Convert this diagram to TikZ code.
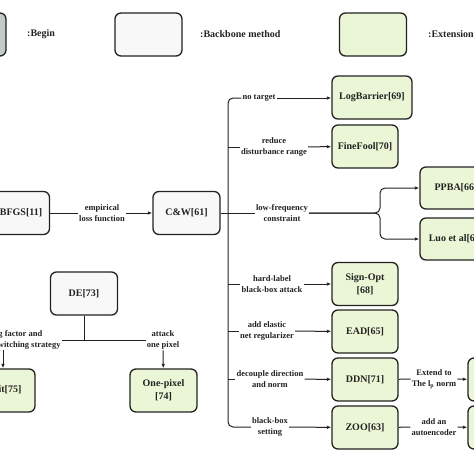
\documentclass[tikz,border=0pt]{standalone}
\usepackage{fontspec}
\setmainfont{Liberation Serif}
\usepackage{xcolor}
\usepackage{tikz}
\usetikzlibrary{positioning, arrows.meta}
\definecolor{begingray}{HTML}{C3CACA}
\definecolor{backfill}{HTML}{F8F8F8}
\definecolor{extgreen}{HTML}{EAF6D6}
\definecolor{inkblack}{HTML}{222222}

\begin{document}
\begin{tikzpicture}[x=1pt, y=-1pt,
    box/.style={draw=inkblack, line width=1.3pt, rounded corners=6pt, minimum width=67pt,
                minimum height=43pt, align=center, inner sep=2pt, text=inkblack,
                font=\bfseries\fontsize{10}{13}\selectfont},
    beginbox/.style={box, fill=begingray},
    backbox/.style={box, fill=backfill},
    extbox/.style={box, fill=extgreen},
    legendtxt/.style={anchor=west, inner sep=0pt, text=inkblack, font=\bfseries\fontsize{10}{12}\selectfont},
    lbl/.style={align=center, inner sep=1pt, text=inkblack, font=\bfseries\fontsize{8.5}{10.5}\selectfont},
    conn/.style={draw=inkblack, line width=1pt},
    arr/.style={conn, -{Latex[length=4.5pt, width=3.5pt]}}]
    \useasboundingbox (0,0) rectangle (474,474);
    \clip (0,0) rectangle (474,474);

    % legend
    \node[beginbox] (lgbegin) at (-27.5,34.5) {};
    \node[legendtxt] (lgbegintxt) at (27,34) {:Begin};
    \node[backbox] (lgback) at (148.5,34.5) {};
    \node[legendtxt] (lgbacktxt) at (200,34) {:Backbone method};
    \node[extbox] (lgext) at (373,34.5) {};
    \node[legendtxt] (lgexttxt) at (428,34) {:Extension method};

    % backbone chain
    \node[backbox] (lbfgs) at (16,213) {L-BFGS[11]};
    \node[backbox] (cw) at (186.5,213) {C\&W[61]};
    \node[lbl] (lblemp) at (102,213) {empirical\\loss function};
    \draw[conn] (lbfgs) -- (lblemp);
    \draw[arr] (lblemp) -- (cw);

    % branches of C&W
    \coordinate (trunk) at (228,213);
    \node[lbl] (lblnotarget) at (259,98) {no target};
    \node[lbl] (lbldist) at (274,147) {reduce\\disturbance range};
    \node[lbl] (lbllow) at (282,213) {low-frequency\\constraint};
    \node[lbl] (lblhard) at (272,284) {hard-label\\black-box attack};
    \node[lbl] (lblelastic) at (267,331) {add elastic\\net regularizer};
    \node[lbl] (lbldecouple) at (270,379) {decouple direction\\and norm};
    \node[lbl] (lblblackbox) at (270,427) {black-box\\setting};

    \node[extbox, minimum width=80pt] (logbarrier) at (372,97.5) {LogBarrier[69]};
    \node[extbox, minimum width=66pt] (finefool) at (365,146.5) {FineFool[70]};
    \node[extbox, minimum width=72pt, minimum height=42pt] (ppba) at (456,188) {PPBA[66]};
    \node[extbox, minimum width=72pt, minimum height=42pt] (luo) at (456,239) {Luo et al[64]};
    \node[extbox, minimum width=66pt] (signopt) at (365,284) {Sign-Opt\\{[68]}};
    \node[extbox, minimum width=66pt] (ead) at (365,331.5) {EAD[65]};
    \node[extbox, minimum width=66pt] (ddn) at (365,379.5) {DDN[71]};
    \node[extbox, minimum width=66pt] (zoo) at (365,427.5) {ZOO[63]};
    \node[extbox] (ddnnext) at (501.5,379.5) {};
    \node[extbox] (zoonext) at (501.5,427.5) {};

    \draw[conn] (cw) -- (trunk);
    \draw[conn, rounded corners=5pt] (lblnotarget.west) -| (trunk) |- (lblblackbox.west);
    \draw[arr] (lblnotarget) -- (lblnotarget -| logbarrier.west);
    \draw[conn] (lbldist.west -| trunk) -- (lbldist.west);
    \draw[arr] (lbldist) -- (finefool);
    \draw[conn] (trunk) -- (lbllow);
    \coordinate (lowsplit) at (380,213);
    \draw[arr, rounded corners=5pt] (lbllow.east) -- (lowsplit) |- (ppba.west);
    \draw[arr, rounded corners=5pt] (lbllow.east) -- (lowsplit) |- (luo.west);
    \draw[conn] (lblhard.west -| trunk) -- (lblhard.west);
    \draw[arr] (lblhard) -- (signopt);
    \draw[conn] (lblelastic.west -| trunk) -- (lblelastic.west);
    \draw[arr] (lblelastic) -- (ead);
    \draw[conn] (lbldecouple.west -| trunk) -- (lbldecouple.west);
    \draw[arr] (lbldecouple) -- (ddn);
    \draw[arr] (lblblackbox) -- (zoo);

    \node[lbl] (lbllp) at (434,379) {Extend to\\The l\textsubscript{p} norm};
    \node[lbl] (lblauto) at (434,427) {add an\\autoencoder};
    \draw[conn] (ddn) -- (lbllp);
    \draw[arr] (lbllp) -- (ddnnext);
    \draw[conn] (zoo) -- (lblauto);
    \draw[arr] (lblauto) -- (zoonext);

    % DE branch
    \node[backbox] (de) at (84,293.5) {DE[73]};
    \coordinate (dejoin) at (84,340);
    \node[lbl] (lblscale) at (10,340) {scaling factor and\\mutation switching strategy};
    \node[lbl] (lblpixel) at (163,340) {attack\\one pixel};
    \node[extbox, minimum width=64pt] (split) at (3,390.5) {Split[75]};
    \node[extbox] (onepixel) at (163.5,390.5) {One-pixel\\{[74]}};
    \draw[conn] (de) -- (dejoin);
    \draw[conn] (lblscale.east |- dejoin) -- (lblpixel.west |- dejoin);
    \draw[arr] (lblscale.south -| split.north) -- (split.north);
    \draw[arr] (lblpixel) -- (onepixel);
\end{tikzpicture}
\end{document}
